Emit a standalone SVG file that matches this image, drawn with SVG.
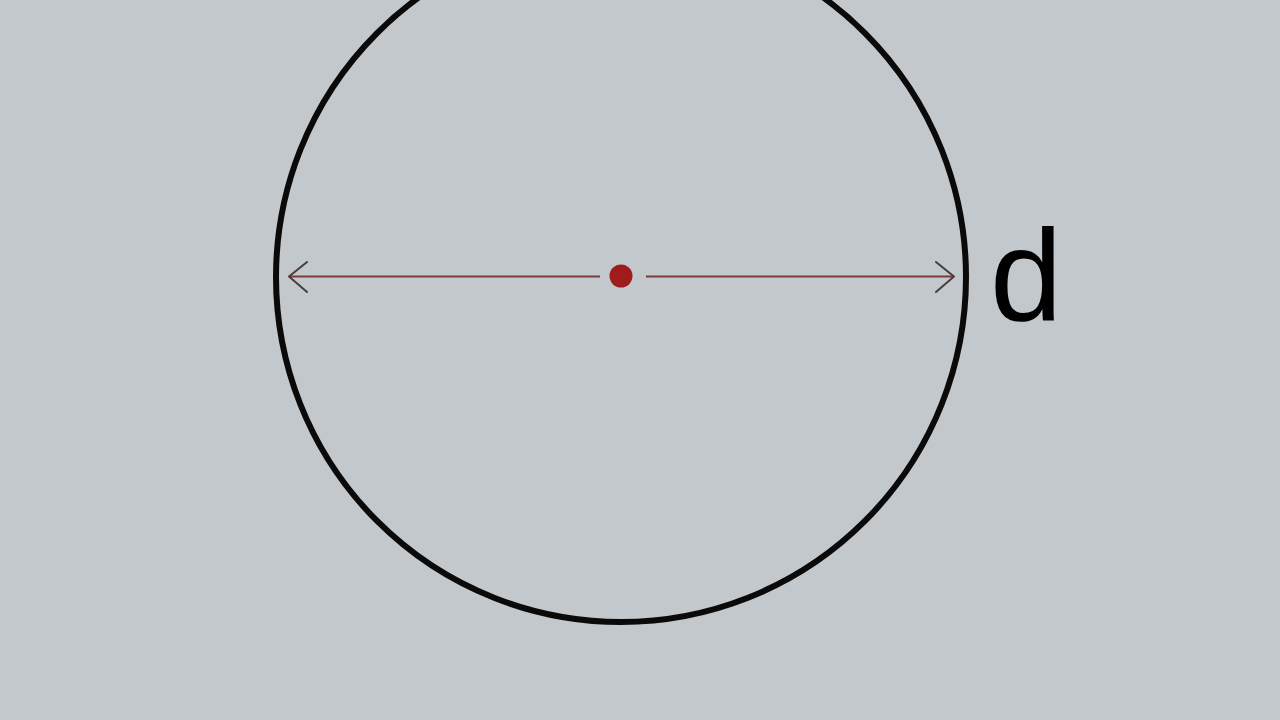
<svg xmlns="http://www.w3.org/2000/svg" width="1280" height="720" viewBox="0 0 1280 720">
<style>
.dim{stroke:#7a3b3b;stroke-width:2;fill:none}
.head{stroke:#4a3d3d;stroke-width:2;fill:none;stroke-linecap:round;stroke-linejoin:round}
.lbl{font-family:"Liberation Sans",Arial,sans-serif;font-size:130px;fill:#000}
</style>
<rect width="1280" height="720" fill="#c3c8cd"/>
<g id="circle">
<circle cx="621" cy="277" r="345" fill="none" stroke="#0a0a0a" stroke-width="6"/>
</g>
<g id="center">
<circle cx="621" cy="276" r="11.5" fill="#a01c1c"/>
</g>
<g id="connectors">
<line class="dim" x1="290" y1="276.5" x2="600" y2="276.5"/>
<line class="dim" x1="646" y1="276.5" x2="953" y2="276.5"/>
<polyline class="head" points="307,262 289,276.5 307,292"/>
<polyline class="head" points="936,262 954,276.5 936,292"/>
</g>
<g id="label">
<text class="lbl" x="990" y="320">d</text>
</g>
</svg>
